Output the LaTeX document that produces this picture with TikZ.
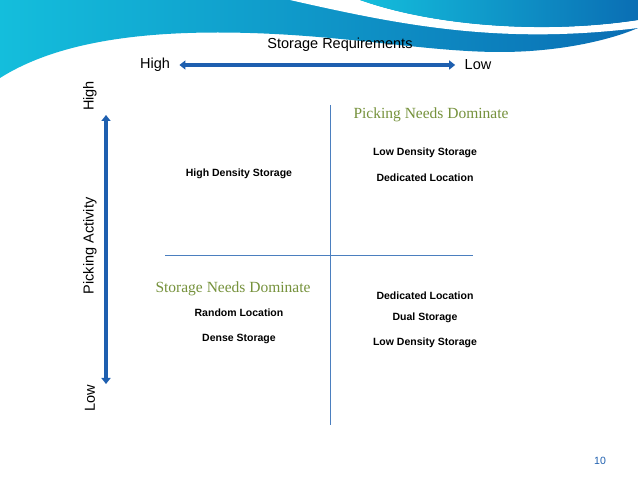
\documentclass[tikz,border=0pt]{standalone}
\usepackage{fontspec}
\usetikzlibrary{arrows.meta}
\setmainfont{Liberation Serif}
\setsansfont{Liberation Sans}
\definecolor{olive}{RGB}{118,146,60}
\definecolor{arrowblue}{RGB}{30,95,175}
\definecolor{bandA}{RGB}{10,110,180}
\definecolor{bandB}{RGB}{20,190,220}
\begin{document}
\begin{tikzpicture}[x=1pt,y=-1pt,
  lbl/.style={font=\sffamily\bfseries\fontsize{10.5}{12}\selectfont},
  axis/.style={font=\sffamily\fontsize{14.5}{16}\selectfont},
  dom/.style={font=\rmfamily\fontsize{15.5}{17}\selectfont,text=olive},
  dbl/.style={arrowblue,line width=3.5pt,{Triangle[width=9pt,length=6pt]}-{Triangle[width=9pt,length=6pt]}}]
\useasboundingbox (0,0) rectangle (638,478);
\fill[white] (0,0) rectangle (638,478);
% banner
\shade[left color=bandB,right color=bandA] (0,0) -- (310,0) .. controls (420,30) and (520,50) .. (638,28) -- (638,0) -- (0,0) -- cycle;
\shade[left color=bandB,right color=bandA] (0,0) -- (0,78) .. controls (60,40) and (150,30) .. (250,33) .. controls (350,36) and (430,52) .. (500,52) .. controls (560,52) and (610,40) .. (638,28) -- (638,0) -- cycle;
\fill[white] (290,0) .. controls (400,25) and (500,45) .. (638,28) -- (638,20) .. controls (540,35) and (430,25) .. (360,0) -- cycle;
\shade[left color=bandB,right color=bandA] (360,0) .. controls (430,25) and (540,35) .. (638,20) -- (638,0) -- cycle;
% axes
\node[axis] (sr) at (340,45) {Storage Requirements};
\node[axis] (hh) at (155,65) {High};
\node[axis] (hl) at (478,65) {Low};
\path (hh.east) ++(6,0) coordinate (ha) (hl.west) ++(-6,0) coordinate (hb);
\draw[dbl] (ha) -- (hb);
\node[axis,rotate=90] (vh) at (90,96) {High};
\node[axis,rotate=90] (va) at (90,246) {Picking Activity};
\node[axis,rotate=90] (vl) at (90,398) {Low};
\coordinate (vt) at (106,115);
\coordinate (vb) at (106,384);
\draw[dbl] (vt) -- (vb);
% quadrant lines
\coordinate (lt) at (330,105); \coordinate (lb) at (330,425);
\coordinate (ll) at (165,255); \coordinate (lr) at (473,255);
\draw[arrowblue!80,line width=0.8pt] (lt) -- (lb);
\draw[arrowblue!80,line width=0.8pt] (ll) -- (lr);
% labels
\node[dom] (pnd) at (431,115) {Picking Needs Dominate};
\node[lbl] (a1) at (425,153) {Low Density Storage};
\node[lbl] (a2) at (425,178) {Dedicated Location};
\node[lbl] (b1) at (239,174) {High Density Storage};
\node[dom] (snd) at (233,289) {Storage Needs Dominate};
\node[lbl] (c1) at (239,313) {Random Location};
\node[lbl] (c2) at (239,339) {Dense Storage};
\node[lbl] (d1) at (425,296) {Dedicated Location};
\node[lbl] (d2) at (425,318) {Dual Storage};
\node[lbl] (d3) at (425,343) {Low Density Storage};
\node[font=\sffamily\fontsize{10.5}{12}\selectfont,text=arrowblue] (pg) at (600,461) {10};
\end{tikzpicture}
\end{document}
